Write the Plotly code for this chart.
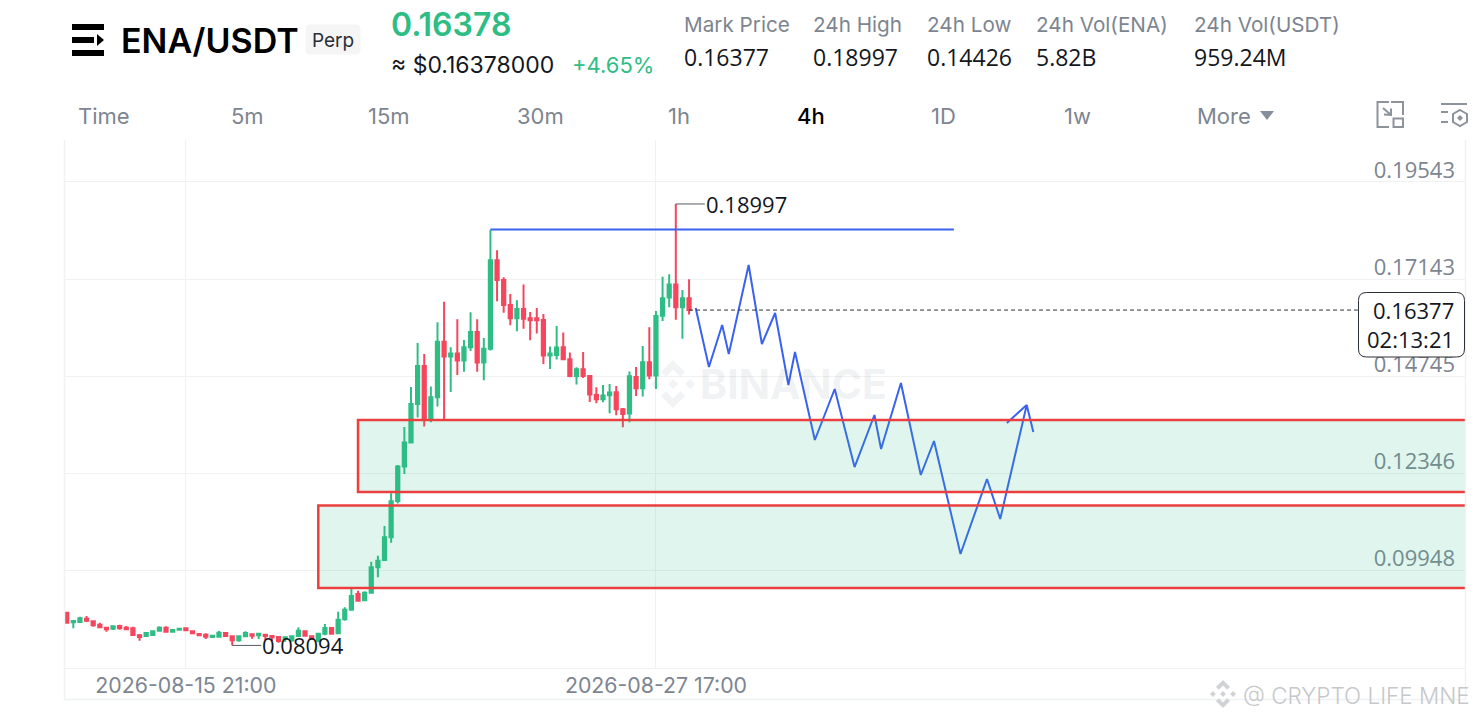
import pandas as pd
import plotly.graph_objects as go

# the page keeps an 8px body margin, so the figure is that much smaller
PAGE_MARGIN = 8
WIDTH = 1477 - PAGE_MARGIN
HEIGHT = 720 - PAGE_MARGIN

GREEN = '#2ebd85'
RED = '#f6465d'
BLUE = '#3a62f0'
GRID = '#f0f1f2'
GRAY = '#7d8590'
DARK = '#14171c'
FONT = 'Inter'
NUM_FONT = 'Open Sans'

# 4h candles, one per slot starting 2026-08-12 21:00
opens = [.08903, .08664, .08672, .08755, .08689, .08606, .08532, .08508, .08573, .08532,
         .08516, .08343, .08327, .08351, .08458, .08532, .08434, .08483, .08516, .08442,
         .08376, .08359, .08302, .08310, .08401, .08318, .08220, .08318, .08368, .08343,
         .08359, .08327, .08302, .08261, .08220, .08327, .08442, .08318, .08211, .08384,
         .08524, .08392, .08738, .08977, .09363, .09207, .09397, .10023, .10204, .10763,
         .11663, .12511, .13103, .14058, .14996, .13679, .14223, .15597, .15227, .15301,
         .15128, .15457, .15836, .15079, .15424, .17605, .17120, .16503, .16173, .16404,
         .16173, .16173, .16132, .15252, .15268, .15457, .15161, .14750, .14914, .14750,
         .14281, .14174, .14272, .14346, .13927, .13820, .14725, .14445, .15087, .14758,
         .16239, .16684, .17005, .16445, .16667]
highs = [.08927, .08705, .08804, .08820, .08705, .08656, .08549, .08582, .08606, .08573,
         .08557, .08376, .08425, .08458, .08565, .08565, .08491, .08516, .08541, .08458,
         .08392, .08392, .08351, .08450, .08417, .08327, .08343, .08442, .08376, .08392,
         .08368, .08351, .08318, .08302, .08343, .08541, .08450, .08335, .08409, .08623,
         .08549, .08927, .09034, .09487, .09446, .09429, .10163, .10311, .11043, .11850,
         .12552, .13490, .14478, .15564, .15293, .14486, .16074, .16585, .15457, .16148,
         .15638, .16321, .16148, .15688, .18354, .17852, .17186, .16774, .16618, .17005,
         .16330, .16429, .16280, .15474, .15984, .15820, .15326, .14964, .15342, .14758,
         .14470, .14527, .14552, .14503, .13960, .14857, .14972, .15490, .15951, .16354,
         .17202, .17260, .18997, .16873, .17136]
lows = [.08639, .08516, .08664, .08672, .08557, .08532, .08434, .08475, .08483, .08475,
        .08335, .08211, .08302, .08327, .08434, .08425, .08417, .08475, .08450, .08368,
        .08327, .08253, .08285, .08294, .08310, .08094, .08187, .08302, .08261, .08253,
        .08228, .08203, .08162, .08187, .08187, .08318, .08310, .08228, .08170, .08343,
        .08368, .08384, .08705, .08969, .09174, .09199, .09389, .09776, .10187, .10632,
        .11597, .12330, .13095, .13721, .13498, .13605, .13992, .13679, .14354, .14774,
        .14856, .15367, .14856, .14642, .15375, .16593, .16313, .16001, .15852, .15918,
        .15630, .15795, .15046, .14922, .15153, .15145, .14717, .14536, .14700, .14108,
        .14075, .14100, .13828, .13779, .13482, .13606, .14256, .14239, .14667, .14429,
        .16108, .16445, .16140, .15671, .16264]
closes = [.08656, .08697, .08763, .08705, .08590, .08541, .08491, .08565, .08516, .08491,
          .08351, .08302, .08401, .08442, .08532, .08434, .08475, .08508, .08467, .08392,
          .08343, .08310, .08335, .08409, .08327, .08220, .08318, .08401, .08335, .08384,
          .08327, .08294, .08203, .08294, .08318, .08458, .08335, .08253, .08384, .08524,
          .08384, .08730, .08977, .09314, .09199, .09396, .10023, .10187, .10763, .11652,
          .12511, .13103, .14058, .14996, .13663, .14223, .15597, .15227, .15301, .15128,
          .15457, .15836, .15079, .15424, .17605, .17120, .16503, .16173, .16404, .16165,
          .16124, .16124, .15252, .15301, .15449, .15161, .14750, .14914, .14750, .14289,
          .14174, .14264, .14338, .13927, .13811, .14742, .14445, .15087, .14758, .16231,
          .16667, .17005, .16445, .16667, .16378]

# hand drawn forecast, slot number and price
path_slots = [95, 97, 99, 100, 103, 105, 107, 109, 110, 113, 116, 119, 122, 123, 126, 129,
              131, 135, 139, 141, 145, 146]
path_prices = [.16428, .14970, .16008, .15291, .17490, .15538, .16304, .14526, .15341, .13167,
               .14427, .12500, .13785, .12945, .14575, .12303, .13143, .10351, .12204, .11216,
               .14032, .13365]
stub_slots = [142, 145]
stub_prices = [.13587, .14032]
top_line_slots = [64, 134]
top_line_price = .18367

# supply zones: left slot, bottom price, top price
zones = [(44, .11883, .13661), (38, .09512, .11549)]

price_ticks = [.19543, .17143, .14745, .12346, .09948, .07548]
time_tick_slots = [18, 89]
time_tick_labels = ['2026-08-15 21:00', '2026-08-27 17:00']

last_price = .16377
countdown = '02:13:21'
low_slot, low_label = 25, '0.08094'
high_slot, high_label = 92, '0.18997'

stats = [('Mark Price', '0.16377', 684), ('24h High', '0.18997', 813), ('24h Low', '0.14426', 927),
         ('24h Vol(ENA)', '5.82B', 1036), ('24h Vol(USDT)', '959.24M', 1194)]
intervals = [('Time', 78), ('5m', 231), ('15m', 368), ('30m', 517), ('1h', 668),
             ('4h', 797), ('1D', 931), ('1w', 1064), ('More', 1197)]

slots = pd.date_range('2026-08-12 21:00', periods=240, freq='4h')


def px(x):
    return (x - PAGE_MARGIN) / WIDTH


def py(y):
    return 1 - (y - PAGE_MARGIN) / HEIGHT


def label(x, y, text, size=20, color=DARK, weight=400, anchor='left', family=FONT):
    if anchor == 'left':
        x -= 1.5
    return dict(xref='paper', yref='paper', x=px(x), y=py(y), text=text, showarrow=False,
                xanchor=anchor, yanchor='middle', borderpad=0,
                font=dict(family=family, size=size, color=color, weight=weight))


def polygon(points, color, below=False):
    d = 'M' + ' L'.join('{:.5f},{:.5f}'.format(px(x), py(y)) for x, y in points) + ' Z'
    return dict(type='path', xref='paper', yref='paper', path=d, fillcolor=color,
                line=dict(width=0), layer='below' if below else 'above')


def stroke(points, color=GRAY, width=2, closed=False):
    d = 'M' + ' L'.join('{:.5f},{:.5f}'.format(px(x), py(y)) for x, y in points)
    if closed:
        d += ' Z'
    return dict(type='path', xref='paper', yref='paper', path=d,
                line=dict(color=color, width=width), layer='above')


def rounded_box(x0, y0, x1, y1, r, line_color, fill):
    p = lambda x, y: '{:.5f},{:.5f}'.format(px(x), py(y))
    d = ('M' + p(x0 + r, y0) + ' L' + p(x1 - r, y0) + ' Q' + p(x1, y0) + ' ' + p(x1, y0 + r)
         + ' L' + p(x1, y1 - r) + ' Q' + p(x1, y1) + ' ' + p(x1 - r, y1)
         + ' L' + p(x0 + r, y1) + ' Q' + p(x0, y1) + ' ' + p(x0, y1 - r)
         + ' L' + p(x0, y0 + r) + ' Q' + p(x0, y0) + ' ' + p(x0 + r, y0) + ' Z')
    return dict(type='path', xref='paper', yref='paper', path=d, fillcolor=fill,
                line=dict(color=line_color, width=1), layer='above')


def binance_logo(cx, cy, r, color, below=True):
    shapes = []
    for sign in (-1, 1):
        chevron = [(0, -1), (.5, -.5), (.3, -.3), (0, -.6), (-.3, -.3), (-.5, -.5)]
        shapes.append(polygon([(cx + a * r, cy + sign * b * r) for a, b in chevron], color, below))
    for dx in (-.72, 0, .72):
        gem = [(dx, -.21), (dx + .21, 0), (dx, .21), (dx - .21, 0)]
        shapes.append(polygon([(cx + a * r, cy + b * r) for a, b in gem], color, below))
    return shapes


fig = go.Figure()

fig.add_trace(go.Candlestick(x=slots[:95], open=opens, high=highs, low=lows, close=closes,
                             increasing=dict(line=dict(color=GREEN, width=2), fillcolor=GREEN),
                             decreasing=dict(line=dict(color=RED, width=2), fillcolor=RED),
                             whiskerwidth=0, hoverinfo='skip'))
fig.add_trace(go.Scatter(x=[slots[i] for i in path_slots], y=path_prices, mode='lines',
                         line=dict(color=BLUE, width=2), hoverinfo='skip'))
fig.add_trace(go.Scatter(x=[slots[i] for i in stub_slots], y=stub_prices, mode='lines',
                         line=dict(color=BLUE, width=2), hoverinfo='skip'))
fig.add_trace(go.Scatter(x=[slots[i] for i in top_line_slots], y=[top_line_price] * 2, mode='lines',
                         line=dict(color=BLUE, width=2), hoverinfo='skip'))

shapes = []
shapes += binance_logo(673, 384, 24, '#f2f3f4')
for left, bottom, top in zones:
    shapes.append(dict(type='rect', xref='x', yref='y', x0=slots[left], x1=slots[230], y0=bottom, y1=top,
                       fillcolor='rgba(46,189,133,0.15)', line=dict(color='#e9403f', width=2.5), layer='above'))
shapes.append(dict(type='line', xref='x', yref='y', x0=slots[94], x1=slots[195], y0=last_price, y1=last_price,
                   line=dict(color='#2b2f36', width=1, dash='4px,3px'), layer='above'))

# frame around the chart and the time band
shapes.append(stroke([(64.5, 140), (64.5, 699.5), (1465.5, 699.5), (1465.5, 140)], GRID, 1.5))

# price tag on the right
shapes.append(rounded_box(1358.5, 292.5, 1464.5, 357, 8, '#2b2f36', 'white'))

# left logo
shapes.append(polygon([(72, 24), (104, 24), (104, 30), (72, 30)], '#000000'))
shapes.append(polygon([(72, 37), (94, 37), (94, 43), (72, 43)], '#000000'))
shapes.append(polygon([(72, 50), (104, 50), (104, 56), (72, 56)], '#000000'))
shapes.append(polygon([(97, 34), (104, 40), (97, 46)], '#000000'))
# Perp badge
shapes.append(rounded_box(306, 25, 360, 54, 4, '#f5f5f5', '#f5f5f5'))
# More arrow
shapes.append(polygon([(1260, 111), (1274, 111), (1267, 120)], '#848e9c'))
# icons top right
shapes.append(stroke([(1389, 102), (1377.5, 102), (1377.5, 127), (1389, 127)], '#8d939b', 2))
shapes.append(stroke([(1391, 102), (1403, 102), (1403, 115)], '#8d939b', 2))
shapes.append(stroke([(1393.5, 118.5), (1403, 118.5), (1403, 127), (1393.5, 127)], '#8d939b', 2, closed=True))
shapes.append(stroke([(1383, 108), (1391, 115)], '#8d939b', 2))
shapes.append(stroke([(1384, 114.5), (1391, 115), (1391, 108.5)], '#8d939b', 2))
shapes.append(stroke([(1441, 104), (1467, 104)], '#8d939b', 2))
shapes.append(stroke([(1441, 112), (1448, 112)], '#8d939b', 2))
shapes.append(stroke([(1441, 122), (1448, 122)], '#8d939b', 2))
shapes.append(stroke([(1460, 110), (1467, 114), (1467, 122), (1460, 126), (1453, 122), (1453, 114)], '#8d939b', 2,
                     closed=True))
shapes.append(polygon([(1460, 115), (1463, 118), (1460, 121), (1457, 118)], '#8d939b'))
# watermark bottom right
shapes += binance_logo(1223, 694, 14, '#d0d2d5', below=False)

annotations = [
    label(121, 40, 'ENA/USDT', 34, '#000000', 600),
    label(312, 40, 'Perp', 19, '#2b2f36'),
    label(392, 25, '0.16378', 32, GREEN, 600),
    label(392, 65, '≈ $0.16378000', 23, DARK),
    label(572, 65, '+4.65%', 22, GREEN),
    # transparent so the blue path still shows through
    label(700, 384, 'BINANCE', 41, 'rgba(110,120,135,0.1)', 700),
    label(1455, 310, '{:.5f}'.format(last_price), 22, DARK, anchor='right', family=NUM_FONT),
    label(1455, 339, countdown, 22, DARK, anchor='right', family=NUM_FONT),
    label(1243, 695, '@ CRYPTO LIFE MNE', 22.5, '#c6c8cb', 300),
]
for name, value, x in stats:
    annotations.append(label(x, 25, name, 20.7, GRAY))
    annotations.append(label(x, 57, value, 23, DARK, family=NUM_FONT))
for name, x in intervals:
    annotations.append(label(x, 116, name, 22, '#000000' if name == '4h' else GRAY, 500 if name == '4h' else 400))

for slot, price, text in [(low_slot, lows[low_slot], low_label), (high_slot, highs[high_slot], high_label)]:
    annotations.append(dict(xref='x', yref='y', x=slots[slot], y=price, text=text, showarrow=True,
                            arrowhead=0, arrowwidth=1, arrowcolor='#555a62', axref='pixel', ayref='pixel',
                            ax=29, ay=0, standoff=0, xanchor='left', borderpad=0,
                            font=dict(family=NUM_FONT, size=22, color=DARK)))

fig.update_layout(
    width=WIDTH, height=HEIGHT,
    margin=dict(l=0, r=0, t=0, b=0),
    paper_bgcolor='white', plot_bgcolor='white',
    showlegend=False, hovermode=False,
    shapes=shapes, annotations=annotations,
    xaxis=dict(domain=[px(65), px(1465)], range=['2026-08-12 19:58', '2026-09-17 01:48'],
               rangeslider=dict(visible=False), tickmode='array',
               tickvals=[slots[i] for i in time_tick_slots], ticktext=time_tick_labels,
               showgrid=True, gridcolor=GRID, gridwidth=1, zeroline=False,
               showline=True, linecolor=GRID, linewidth=1, ticks='', ticklabelstandoff=-2,
               tickfont=dict(family=FONT, size=21.3, color=GRAY)),
    yaxis=dict(domain=[py(668), py(140)], range=[.07536, .20577], side='right', tickmode='array',
               tickvals=price_ticks, ticktext=['{:.5f}'.format(p) for p in price_ticks],
               showgrid=True, gridcolor=GRID, gridwidth=1, zeroline=False, showline=False, ticks='',
               ticklabelposition='inside', ticklabelstandoff=7, ticklabelshift=-12,
               tickfont=dict(family=NUM_FONT, size=22, color=GRAY)),
)

fig.write_html("out.html")
